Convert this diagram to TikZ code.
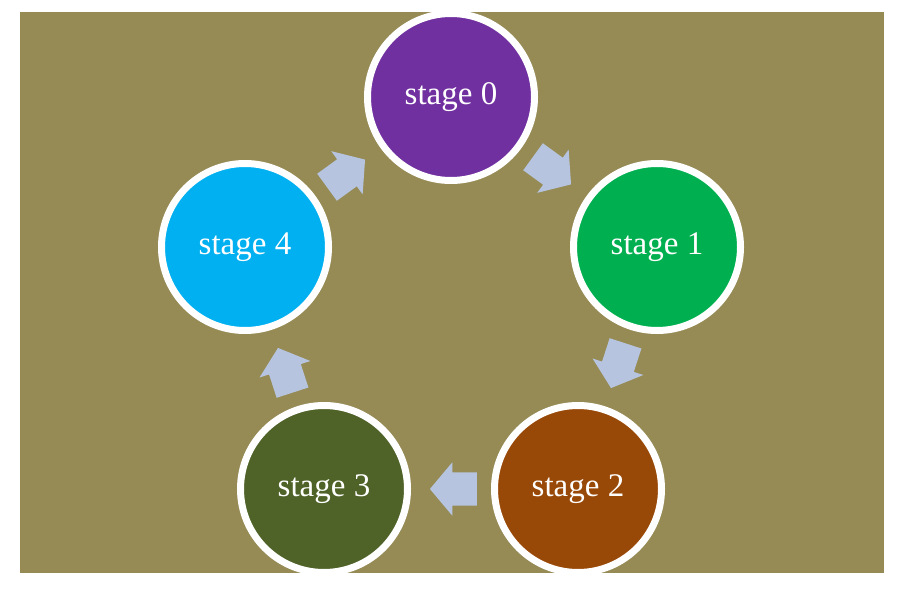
\documentclass[tikz,border=0pt]{standalone}
\usepackage{fontspec}
\setmainfont{Liberation Serif}
\usepackage{tikz}
\usetikzlibrary{shapes, arrows, calc}

\definecolor{olivebg}{RGB}{150,139,85}
\definecolor{stagepurple}{RGB}{112,48,160}
\definecolor{stagegreen}{RGB}{0,176,80}
\definecolor{stagebrown}{RGB}{152,72,7}
\definecolor{stagedark}{RGB}{79,98,40}
\definecolor{stagecyan}{RGB}{0,176,240}
\definecolor{arrowblue}{RGB}{182,196,224}

\tikzset{
  stage/.style={circle, draw=white, line width=7pt, minimum size=167pt, inner sep=0pt,
    text=white, font=\fontsize{33}{40}\selectfont},
  blockarrow/.style={single arrow, fill=arrowblue, draw=none, inner xsep=0pt,
    inner ysep=16.5pt, minimum height=47pt, single arrow head extend=10pt,
    single arrow tip angle=100}
}

\begin{document}
\begin{tikzpicture}[x=1pt, y=1pt]
\useasboundingbox (0,0) rectangle (904,590);
\fill[olivebg] (20,17) rectangle (884,578);

\node (s0) [stage, fill=stagepurple] at (451,493) {stage 0};
\node (s1) [stage, fill=stagegreen] at (657,343) {stage 1};
\node (s2) [stage, fill=stagebrown] at (578,101) {stage 2};
\node (s3) [stage, fill=stagedark] at (324,101) {stage 3};
\node (s4) [stage, fill=stagecyan] at (245,343) {stage 4};

\node (a01) [blockarrow, rotate=-36] at ($(s0)!0.463!(s1)$) {};
\node (a12) [blockarrow, rotate=-108] at ($(s1)!0.463!(s2)$) {};
\node (a23) [blockarrow, rotate=180] at ($(s2)!0.463!(s3)$) {};
\node (a34) [blockarrow, rotate=108] at ($(s3)!0.463!(s4)$) {};
\node (a40) [blockarrow, rotate=36] at ($(s4)!0.463!(s0)$) {};
\end{tikzpicture}
\end{document}
